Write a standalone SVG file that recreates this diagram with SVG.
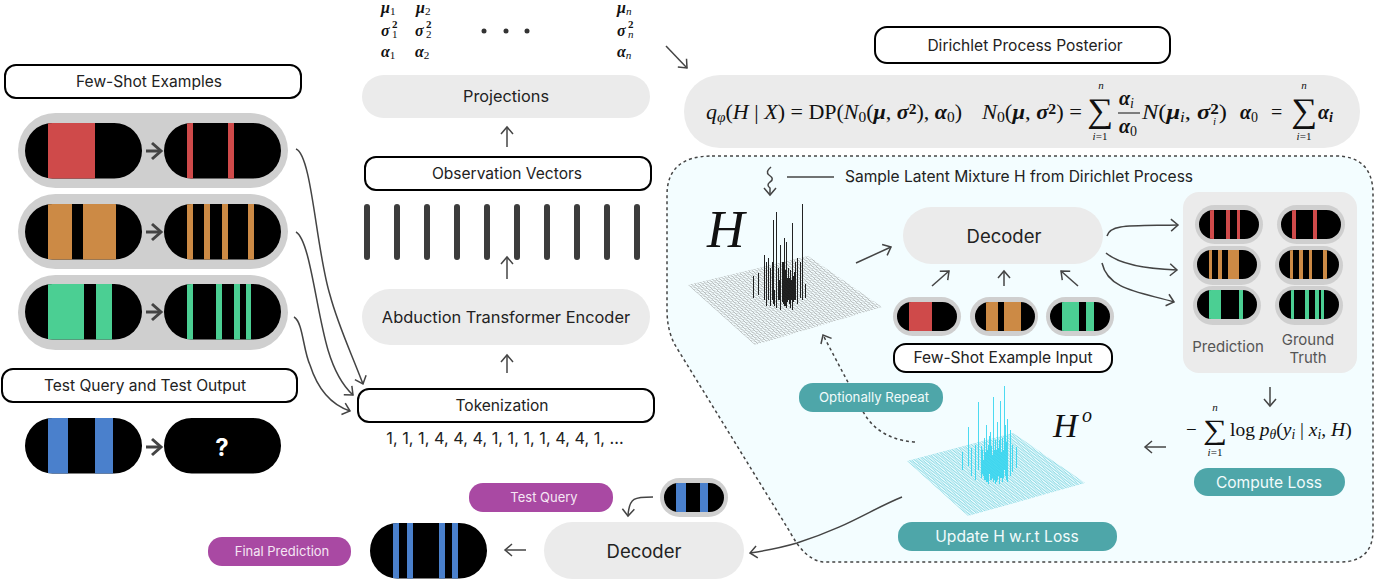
<svg xmlns="http://www.w3.org/2000/svg" width="1376" height="585" viewBox="0 0 1376 585">
<style>
text{font-family:Inter,"Liberation Sans",sans-serif;fill:#222;text-anchor:middle}
.f15{font-size:15.55px}
.box{fill:#fff;stroke:#000;stroke-width:2}
.g{fill:#ebebeb}
.pg{fill:#cfcfcf}
.k{fill:#000}
.r{fill:#cf4a4a}.o{fill:#cc8a45}.n{fill:#4bcf93}.b{fill:#4a80cc}
.teal{fill:#4ea6a9}.mag{fill:#a949a3}
.w{fill:#f2fbfb;font-size:15.6px}
.c{fill:none;stroke:#444;stroke-width:1.5;marker-end:url(#a)}
.th{fill:none;stroke:#444;stroke-width:3;marker-end:url(#a2)}
.m{font-family:"Liberation Serif",serif;fill:#111;text-anchor:start;font-size:20px}
.p{font-size:16px}
.m tspan.i{font-style:italic}
.m tspan.x{font-style:italic;font-weight:bold}
.s{font-size:70%;baseline-shift:-22%}
.u{font-size:70%;baseline-shift:38%}
.mc{text-anchor:middle;font-size:11px}
.sig{text-anchor:start;font-size:34px}
</style>
<defs>
<marker id="a" markerUnits="userSpaceOnUse" markerWidth="14" markerHeight="14" refX="11" refY="7" orient="auto" overflow="visible"><path d="M4 1L11 7L4 13" fill="none" stroke="#444" stroke-width="1.5"/></marker>
<marker id="a2" markerUnits="userSpaceOnUse" markerWidth="16" markerHeight="20" refX="12" refY="9" orient="auto" overflow="visible"><path d="M3 1L12 9L3 17" fill="none" stroke="#444" stroke-width="3"/></marker>
<clipPath id="pc"><rect width="117" height="55.5" rx="27.7"/></clipPath>
<clipPath id="ps"><rect width="60" height="29" rx="14.5"/></clipPath>
<pattern id="g1" patternUnits="userSpaceOnUse" width="10" height="10" patternTransform="matrix(.3 -.0725 .1675 .15 688 285)"><path d="M0 0H10M0 0V10" stroke="#a9adad" stroke-width="4" fill="none"/></pattern>
<pattern id="g2" patternUnits="userSpaceOnUse" width="10" height="10" patternTransform="matrix(.212 -.056 .122 .11 907 461)"><path d="M0 0H10M0 0V10" stroke="#7fd6e2" stroke-width="5" fill="none"/></pattern>
</defs>

<g id="panel-sample"><path d="M712 156H1335Q1373 156 1373 194V530Q1373 562 1340 562H823Q805 560 790 532L675 345Q667 330 667 310V195Q667 156 712 156Z" fill="#f3fdff" stroke="#444" stroke-width="1.5" stroke-dasharray="3 3"/></g>

<g id="few-shot-title"><rect class="box" x="5" y="65" width="296" height="33" rx="11"/><text class="f15" x="149" y="87">Few-Shot Examples</text></g>

<g id="example-1"><rect class="pg" x="18" y="113" width="270" height="75" rx="37.5"/>
<g transform="translate(25 123)" clip-path="url(#pc)"><rect class="k" width="117" height="56"/><rect class="r" x="23" width="47" height="56"/></g>
<path class="th" d="M146 151H161"/>
<g transform="translate(164 123)" clip-path="url(#pc)"><rect class="k" width="117" height="56"/><rect class="r" x="23" width="6" height="56"/><rect class="r" x="64" width="6" height="56"/></g></g>

<g id="example-2"><rect class="pg" x="18" y="194" width="270" height="75" rx="37.5"/>
<g transform="translate(25 204)" clip-path="url(#pc)"><rect class="k" width="117" height="56"/><rect class="o" x="23" width="24" height="56"/><rect class="o" x="58" width="33" height="56"/></g>
<path class="th" d="M146 232H161"/>
<g transform="translate(164 204)" clip-path="url(#pc)"><rect class="k" width="117" height="56"/><rect class="o" x="23" width="6" height="56"/><rect class="o" x="40" width="6" height="56"/><rect class="o" x="58" width="6" height="56"/><rect class="o" x="84" width="6" height="56"/></g></g>

<g id="example-3"><rect class="pg" x="18" y="275" width="270" height="75" rx="37.5"/>
<g transform="translate(25 284)" clip-path="url(#pc)"><rect class="k" width="117" height="56"/><rect class="n" x="23" width="36" height="56"/><rect class="n" x="71" width="16" height="56"/></g>
<path class="th" d="M146 312H161"/>
<g transform="translate(164 284)" clip-path="url(#pc)"><rect class="k" width="117" height="56"/><rect class="n" x="23" width="6" height="56"/><rect class="n" x="52" width="6" height="56"/><rect class="n" x="70" width="6" height="56"/><rect class="n" x="82" width="5" height="56"/></g></g>

<g id="test-title"><rect class="box" x="2" y="369" width="295" height="33" rx="11"/><text class="f15" x="145" y="391">Test Query and Test Output</text></g>
<g id="test-pair">
<g transform="translate(25 418)" clip-path="url(#pc)"><rect class="k" width="117" height="56"/><rect class="b" x="23" width="20" height="56"/><rect class="b" x="70" width="18" height="56"/></g>
<path class="th" d="M146 447H161"/>
<g transform="translate(164 418)" clip-path="url(#pc)"><rect class="k" width="117" height="56"/></g>
<text x="222" y="456" style="fill:#fff;font-size:24px;font-weight:700">?</text></g>

<g id="params">
<text class="m p" x="381" y="13"><tspan class="x">μ</tspan><tspan class="s">1</tspan></text>
<text class="m p" x="416" y="13"><tspan class="x">μ</tspan><tspan class="s">2</tspan></text>
<text class="m p" x="617" y="13"><tspan class="x">μ</tspan><tspan class="s i">n</tspan></text>
<text class="m p" x="381" y="36"><tspan class="x">σ</tspan></text><text class="m" style="font-size:11px;font-weight:bold" x="392" y="28">2</text><text class="m" style="font-size:11px" x="392" y="38">1</text>
<text class="m p" x="415" y="36"><tspan class="x">σ</tspan></text><text class="m" style="font-size:11px;font-weight:bold" x="426" y="28">2</text><text class="m" style="font-size:11px" x="426" y="38">2</text>
<text class="m p" x="617" y="36"><tspan class="x">σ</tspan></text><text class="m" style="font-size:11px;font-weight:bold" x="628" y="28">2</text><text class="m" style="font-size:11px;font-style:italic" x="628" y="38">n</text>
<text class="m p" x="381" y="57"><tspan class="x">α</tspan><tspan class="s">1</tspan></text>
<text class="m p" x="415" y="57"><tspan class="x">α</tspan><tspan class="s">2</tspan></text>
<text class="m p" x="617" y="57"><tspan class="x">α</tspan><tspan class="s i">n</tspan></text>
<circle cx="484" cy="31" r="2.5" fill="#333"/><circle cx="506" cy="31" r="2.5" fill="#333"/><circle cx="527" cy="31" r="2.5" fill="#333"/>
</g>

<g id="projections"><rect class="g" x="362" y="75" width="288" height="43" rx="21.5"/><text x="506" y="102" style="font-size:16.3px">Projections</text></g>
<g id="observation"><rect class="box" x="365" y="157" width="286" height="33" rx="11"/><text class="f15" x="507" y="179">Observation Vectors</text></g>
<g id="vectors"><path d="M367 207V257M397 207V257M427 207V257M457 207V257M487 207V257M517 207V257M547 207V257M577 207V257M607 207V257M637 207V257" stroke="#3c3c3c" stroke-width="6" stroke-linecap="round"/></g>
<g id="encoder"><rect class="g" x="362" y="289" width="288" height="56" rx="28"/><text x="506" y="323" style="font-size:16.4px">Abduction Transformer Encoder</text></g>
<g id="tokenization"><rect class="box" x="358" y="389" width="296" height="33" rx="11"/><text class="f15" x="502" y="411">Tokenization</text><text x="505" y="444" style="font-size:16.3px">1, 1, 1, 4, 4, 4, 1, 1, 1, 1, 4, 4, 1, ...</text></g>

<g id="posterior-title"><rect class="box" x="875" y="27" width="295" height="36" rx="12"/><text class="f15" x="1025" y="51">Dirichlet Process Posterior</text></g>
<g id="posterior"><rect class="g" x="684" y="75" width="676" height="73" rx="36"/>
<text class="m" x="706" y="119" textLength="256" lengthAdjust="spacingAndGlyphs"><tspan class="i">q</tspan><tspan class="s i">φ</tspan>(<tspan class="i">H</tspan> | <tspan class="i">X</tspan>) = DP(<tspan class="i">N</tspan><tspan class="s">0</tspan>(<tspan class="x">μ</tspan>, <tspan class="x">σ</tspan><tspan class="u" font-weight="bold">2</tspan>), <tspan class="x">α</tspan><tspan class="s">0</tspan>)</text>
<text class="m" x="982" y="119" textLength="100" lengthAdjust="spacingAndGlyphs"><tspan class="i">N</tspan><tspan class="s">0</tspan>(<tspan class="x">μ</tspan>, <tspan class="x">σ</tspan><tspan class="u" font-weight="bold">2</tspan>) =</text>
<text class="m sig" x="1087" y="122" textLength="26" lengthAdjust="spacingAndGlyphs">∑</text><text class="m mc" x="1101" y="89" font-style="italic">n</text><text class="m mc" x="1100" y="140"><tspan font-style="italic">i</tspan>=1</text>
<text class="m" x="1119" y="105"><tspan class="x">α</tspan><tspan class="s i">i</tspan></text><path d="M1118 113H1140" stroke="#111" stroke-width="1"/><text class="m" x="1119" y="133"><tspan class="x">α</tspan><tspan class="s">0</tspan></text>
<text class="m" x="1142" y="119" textLength="85" lengthAdjust="spacingAndGlyphs"><tspan class="i">N</tspan>(<tspan class="x">μ</tspan><tspan class="s i">i</tspan>, <tspan class="x">σ</tspan><tspan class="u" font-weight="bold">2</tspan>)</text>
<text class="m" style="font-size:11px;font-style:italic" x="1213" y="125">i</text>
<text class="m" x="1240" y="119"><tspan class="x">α</tspan><tspan class="s">0</tspan></text><text class="m" x="1271" y="119">=</text>
<text class="m sig" x="1291" y="122" textLength="26" lengthAdjust="spacingAndGlyphs">∑</text><text class="m mc" x="1304" y="89" font-style="italic">n</text><text class="m mc" x="1304" y="140"><tspan font-style="italic">i</tspan>=1</text>
<text class="m" x="1318" y="119"><tspan class="x">α</tspan><tspan class="s i" font-weight="bold">i</tspan></text></g>

<g id="sample-label"><text class="f15" x="1019" y="182">Sample Latent Mixture H from Dirichlet Process</text></g>

<g id="plot-h"><polygon points="688,285 808,256 882,307 755,345" fill="url(#g1)"/>
<path transform="translate(.5 0)" d="M753 276V298M758 273V295M764 255V300M766 262V306M768 258V300M770 268V306M773 220V304M776 212V308M778 268V300M780 245V310M782 262V302M784 238V306M786 242V308M788 268V300M790 270V308M792 223V310M794 272V300M797 258V304M800 262V298M802 204V300M805 284V298M774 290V306M772 262V300M779 280V300M783 262V304M787 278V302M791 280V300M795 262V300M785 270V306M789 278V304M793 276V302" stroke="#0a0a0a" stroke-width=".9" fill="none"/>
<text x="707" y="247" style="font-family:'Liberation Serif',serif;font-style:italic;font-size:52px;fill:#111;text-anchor:start">H</text></g>

<g id="plot-ho"><polygon points="907,461 1013,433 1085,483 968,516" fill="url(#g2)"/>
<path transform="translate(.5 0)" d="M962 452V470M968 427V466M971 448V476M975 445V480M978 402V470M981 446V478M984 438V480M986 425V482M988 445V484M990 432V480M993 397V482M995 440V484M997 422V480M1000 401V478M1002 438V482M1004 386V470M1006 442V480M1007 419V482M1010 430V476M1012 445V472M1016 447V468M983 460V476M987 450V482M991 446V480M996 450V482M999 440V484M1003 450V478M1005 425V476M989 436V474M982 450V474M985 452V480M992 455V478M994 450V480M998 448V476M1001 452V478" stroke="#2ed3ee" stroke-width="1" opacity=".85" fill="none"/>
<text x="1053" y="437" style="font-family:'Liberation Serif',serif;font-style:italic;font-size:34px;fill:#111;text-anchor:start">H</text>
<text x="1082" y="422" style="font-family:'Liberation Serif',serif;font-style:italic;font-size:20px;fill:#111;text-anchor:start">o</text></g>

<g id="decoder-inner"><rect class="g" x="903" y="207" width="200" height="57" rx="28.5"/><text x="1004" y="243" style="font-size:18.5px">Decoder</text></g>

<g id="inputs">
<rect class="pg" x="893" y="297" width="68" height="39" rx="19.5"/><g transform="translate(897 302)" clip-path="url(#ps)"><rect class="k" width="60" height="29"/><rect class="r" x="12" width="23" height="29"/></g>
<rect class="pg" x="970" y="297" width="68" height="39" rx="19.5"/><g transform="translate(975 302)" clip-path="url(#ps)"><rect class="k" width="60" height="29"/><rect class="o" x="11" width="12" height="29"/><rect class="o" x="29" width="17" height="29"/></g>
<rect class="pg" x="1046" y="297" width="68" height="39" rx="19.5"/><g transform="translate(1050 302)" clip-path="url(#ps)"><rect class="k" width="60" height="29"/><rect class="n" x="12" width="17" height="29"/><rect class="n" x="36" width="8" height="29"/></g>
</g>
<g id="inputs-title"><rect class="box" x="894" y="344" width="218" height="28" rx="12"/><text class="f15" x="1003" y="363">Few-Shot Example Input</text></g>

<g id="results"><rect class="g" x="1183" y="192" width="174" height="181" rx="16"/>
<rect class="pg" x="1195" y="205" width="68" height="39" rx="19.5"/><g transform="translate(1199 210)" clip-path="url(#ps)"><rect class="k" width="60" height="29"/><rect class="r" x="11" width="4" height="29"/><rect class="r" x="27" width="4" height="29"/><rect class="r" x="38" width="3" height="29"/></g>
<rect class="pg" x="1277" y="205" width="68" height="39" rx="19.5"/><g transform="translate(1281 210)" clip-path="url(#ps)"><rect class="k" width="60" height="29"/><rect class="r" x="11" width="4" height="29"/><rect class="r" x="32" width="4" height="29"/></g>
<rect class="pg" x="1193" y="246" width="68" height="39" rx="19.5"/><g transform="translate(1197 250)" clip-path="url(#ps)"><rect class="k" width="60" height="29"/><rect class="o" x="12" width="3" height="29"/><rect class="o" x="21" width="4" height="29"/><rect class="o" x="31" width="11" height="29"/></g>
<rect class="pg" x="1275" y="246" width="68" height="39" rx="19.5"/><g transform="translate(1279 250)" clip-path="url(#ps)"><rect class="k" width="60" height="29"/><rect class="o" x="11" width="3" height="29"/><rect class="o" x="20" width="4" height="29"/><rect class="o" x="30" width="3" height="29"/><rect class="o" x="44" width="4" height="29"/></g>
<rect class="pg" x="1193" y="286" width="68" height="39" rx="19.5"/><g transform="translate(1197 290)" clip-path="url(#ps)"><rect class="k" width="60" height="29"/><rect class="n" x="12" width="12" height="29"/><rect class="n" x="42" width="4" height="29"/></g>
<rect class="pg" x="1275" y="286" width="68" height="39" rx="19.5"/><g transform="translate(1279 290)" clip-path="url(#ps)"><rect class="k" width="60" height="29"/><rect class="n" x="12" width="3" height="29"/><rect class="n" x="26" width="4" height="29"/><rect class="n" x="36" width="4" height="29"/><rect class="n" x="42" width="3" height="29"/></g>
<text x="1228" y="352" style="font-size:15px;fill:#555">Prediction</text>
<text x="1308" y="345" style="font-size:15px;fill:#555">Ground</text><text x="1308" y="363" style="font-size:15px;fill:#555">Truth</text></g>

<g id="loss-formula">
<text class="m" x="1186" y="436" style="font-size:19px">−</text>
<text class="m sig" x="1203" y="439" style="font-size:28px" textLength="24" lengthAdjust="spacingAndGlyphs">∑</text><text class="m mc" x="1215" y="411" font-style="italic">n</text><text class="m mc" x="1215" y="456"><tspan font-style="italic">i</tspan>=1</text>
<text class="m" x="1230" y="436" style="font-size:19.5px">log <tspan class="i">p</tspan><tspan class="s i">θ</tspan>(<tspan class="i">y</tspan><tspan class="s i">i</tspan> | <tspan class="i">x</tspan><tspan class="s i">i</tspan>, <tspan class="i">H</tspan>)</text></g>
<g id="compute-loss"><rect class="teal" x="1194" y="468" width="151" height="28" rx="14"/><text class="w" x="1269" y="488">Compute Loss</text></g>
<g id="update-h"><rect class="teal" x="898" y="522" width="219" height="29" rx="14"/><text class="w" x="1007" y="542">Update H w.r.t Loss</text></g>

<g id="connectors">
<path class="c" d="M296 149C312 155 316 250 330 295C338 325 350 350 363 384"/>
<path class="c" d="M296 232C310 240 316 310 328 350C334 370 342 385 353 395"/>
<path class="c" d="M294 317C303 322 303 350 310 365C318 390 332 405 350 411"/>
<path class="c" d="M507 147V127"/><path class="c" d="M507 279V257"/><path class="c" d="M507 373V355"/>
<path class="c" d="M666 46L687 68"/>
<path d="M787 177H834" stroke="#444" stroke-width="1.5"/>
<path class="c" d="M771 167Q765 172 769 175Q775 179 770 182Q766 185 770 188V195"/>
<path class="c" d="M856 263L891 247"/>
<path class="c" d="M932 286L949 271"/><path class="c" d="M1004 286V271"/><path class="c" d="M1078 286L1061 271"/>
<path class="c" d="M1107 236C1110 224 1130 226 1178 225"/>
<path class="c" d="M1106 253C1120 265 1150 269 1177 270"/>
<path class="c" d="M1102 263C1108 290 1140 292 1174 302"/>
<path class="c" d="M1270 387V406"/><path class="c" d="M1166 447H1145"/>
<path class="c" d="M902 497C870 510 850 526 797 543C780 548 770 550 750 553"/>
<path d="M915 442C885 440 868 425 860 405L823 335" fill="none" stroke="#444" stroke-width="1.5" stroke-dasharray="3 3" marker-end="url(#a)"/>
<path class="c" d="M653 497C635 497 629 497 628 516"/>
<path class="c" d="M526 550H505"/>
</g>

<g id="optional-repeat"><rect class="teal" x="799" y="383" width="144" height="29" rx="14"/><text x="874" y="402" style="fill:#f2fbfb;font-size:13.2px">Optionally Repeat</text></g>

<g id="test-query"><rect class="mag" x="469" y="483" width="144" height="29" rx="14"/><text x="544" y="502" style="fill:#f5e6f4;font-size:13px">Test Query</text></g>
<g id="query-pill"><rect class="pg" x="660" y="478" width="68" height="39" rx="19.5"/><g transform="translate(664 483)" clip-path="url(#ps)"><rect class="k" width="60" height="29"/><rect class="b" x="12" width="10" height="29"/><rect class="b" x="36" width="8" height="29"/></g></g>
<g id="decoder-outer"><rect class="g" x="544" y="522" width="200" height="57" rx="28.5"/><text x="644" y="558" style="font-size:18.5px">Decoder</text></g>
<g id="final-pill"><g transform="translate(370 523)" clip-path="url(#pc)"><rect class="k" width="117" height="56"/><rect class="b" x="23" width="6" height="56"/><rect class="b" x="37" width="6" height="56"/><rect class="b" x="69" width="6" height="56"/><rect class="b" x="82" width="6" height="56"/></g></g>
<g id="final-prediction"><rect class="mag" x="208" y="537" width="143" height="29" rx="14"/><text x="282" y="556" style="fill:#f5e6f4;font-size:13px">Final Prediction</text></g>
</svg>
